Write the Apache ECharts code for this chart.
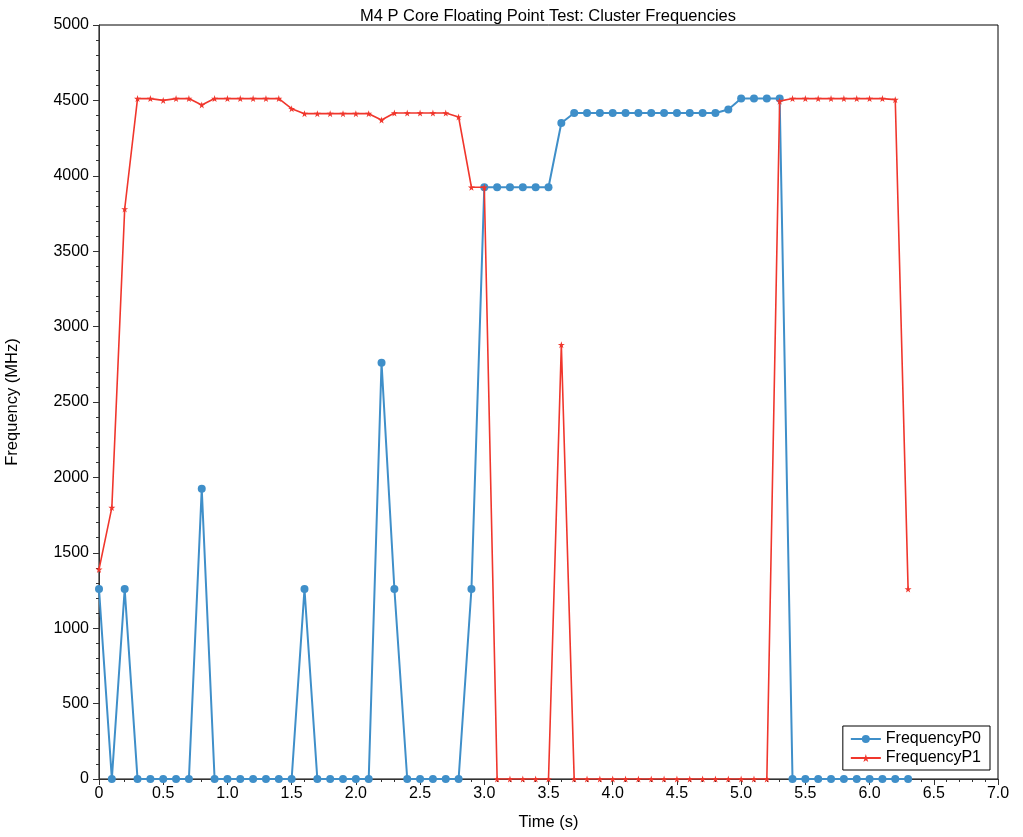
<!DOCTYPE html>
<html>
<head>
<meta charset="utf-8">
<script src="https://cdn.jsdelivr.net/npm/echarts@6/dist/echarts.min.js"></script>
<style>
html, body { margin: 0; padding: 0; background: #fff; }
#main { width: 1023px; height: 837px; }
</style>
</head>
<body>
<div id="main"></div>
<script type="text/javascript">
	// 采样时间 (s)
	var times = [0.0, 0.1, 0.2, 0.3, 0.4, 0.5, 0.6, 0.7, 0.8, 0.9,
		1.0, 1.1, 1.2, 1.3, 1.4, 1.5, 1.6, 1.7, 1.8, 1.9,
		2.0, 2.1, 2.2, 2.3, 2.4, 2.5, 2.6, 2.7, 2.8, 2.9,
		3.0, 3.1, 3.2, 3.3, 3.4, 3.5, 3.6, 3.7, 3.8, 3.9,
		4.0, 4.1, 4.2, 4.3, 4.4, 4.5, 4.6, 4.7, 4.8, 4.9,
		5.0, 5.1, 5.2, 5.3, 5.4, 5.5, 5.6, 5.7, 5.8, 5.9,
		6.0, 6.1, 6.2, 6.3];

	// FrequencyP0 (MHz)
	var freqP0 = [1260, 0, 1260, 0, 0, 0, 0, 0, 1925, 0,
		0, 0, 0, 0, 0, 0, 1260, 0, 0, 0,
		0, 0, 2760, 1260, 0, 0, 0, 0, 0, 1260,
		3924, 3924, 3924, 3924, 3924, 3924, 4350, 4416, 4416, 4416,
		4416, 4416, 4416, 4416, 4416, 4416, 4416, 4416, 4416, 4440,
		4512, 4512, 4512, 4512, 0, 0, 0, 0, 0, 0,
		0, 0, 0, 0];

	// FrequencyP1 (MHz)
	var freqP1 = [1390, 1800, 3780, 4512, 4512, 4500, 4512, 4512, 4470, 4512,
		4512, 4512, 4512, 4512, 4512, 4445, 4412, 4412, 4412, 4412,
		4412, 4412, 4370, 4416, 4416, 4416, 4416, 4416, 4390, 3924,
		3924, 0, 0, 0, 0, 0, 2880, 0, 0, 0,
		0, 0, 0, 0, 0, 0, 0, 0, 0, 0,
		0, 0, 0, 4495, 4512, 4512, 4512, 4512, 4512, 4512,
		4512, 4512, 4505, 1260];

	function pairs(xs, ys) {
		var arr = [];
		for (var i = 0; i < xs.length; i++) {
			arr.push([xs[i], ys[i]]);
		}
		return arr;
	}

	var starPath = 'path://M50,0 L61,35 L98,35 L68,57 L79,91 L50,70 L21,91 L32,57 L2,35 L39,35 Z';
	var fontName = 'Liberation Sans';

	var myChart = echarts.init(document.getElementById('main'));
	var option = {
		animation : false,
		textStyle : {
			fontFamily : fontName
		},
		title : {
			text : 'M4 P Core Floating Point Test: Cluster Frequencies',
			left : 543,
			textAlign : 'center',
			top : 3,
			textStyle : {
				fontFamily : fontName,
				fontSize : 16.5,
				fontWeight : 'normal',
				color : '#000'
			}
		},
		legend : {
			orient : 'vertical',
			right : 33,
			bottom : 67,
			backgroundColor : '#fff',
			borderColor : '#000',
			borderWidth : 1,
			padding : [ 5, 9, 4, 7 ],
			itemGap : 3,
			itemWidth : 30,
			itemHeight : 10,
			textStyle : {
				fontFamily : fontName,
				fontSize : 16,
				color : '#000'
			},
			data : [ 'FrequencyP0', 'FrequencyP1' ]
		},
		grid : {
			left : 99,
			right : 25,
			top : 25,
			bottom : 58,
			show : true,
			borderColor : '#000',
			borderWidth : 1,
			containLabel : false,
			outerBoundsMode : 'none'
		},
		xAxis : {
			type : 'value',
			min : 0,
			max : 7,
			interval : 0.5,
			name : 'Time (s)',
			nameLocation : 'middle',
			nameGap : 35,
			nameTextStyle : {
				fontFamily : fontName,
				fontSize : 16.5,
				color : '#000'
			},
			axisLine : {
				lineStyle : {
					color : '#333',
					width : 1
				}
			},
			axisTick : {
				show : true,
				length : 6,
				lineStyle : {
					color : '#333'
				}
			},
			minorTick : {
				show : true,
				splitNumber : 5,
				length : 3,
				lineStyle : {
					color : '#333'
				}
			},
			splitLine : {
				show : false
			},
			axisLabel : {
				fontFamily : fontName,
				fontSize : 16,
				color : '#000',
				margin : 7,
				formatter : function(v) {
					return v === 0 ? '0' : v.toFixed(1);
				}
			}
		},
		yAxis : {
			type : 'value',
			min : 0,
			max : 5000,
			interval : 500,
			name : 'Frequency (MHz)',
			nameLocation : 'middle',
			nameGap : 78,
			nameTextStyle : {
				fontFamily : fontName,
				fontSize : 16.5,
				color : '#000'
			},
			axisLine : {
				show : true,
				lineStyle : {
					color : '#333',
					width : 1
				}
			},
			axisTick : {
				show : true,
				length : 6,
				lineStyle : {
					color : '#333'
				}
			},
			minorTick : {
				show : true,
				splitNumber : 5,
				length : 3,
				lineStyle : {
					color : '#333'
				}
			},
			splitLine : {
				show : false
			},
			axisLabel : {
				fontFamily : fontName,
				fontSize : 16,
				color : '#000',
				margin : 10,
				formatter : function(v) {
					return String(v);
				}
			}
		},
		series : [ {
			name : 'FrequencyP0',
			type : 'line',
			data : pairs(times, freqP0),
			symbol : 'circle',
			symbolSize : 8,
			showAllSymbol : true,
			color : '#3f8fc9',
			lineStyle : {
				width : 2,
				color : '#3f8fc9'
			},
			itemStyle : {
				color : '#3f8fc9'
			},
			z : 2
		}, {
			name : 'FrequencyP1',
			type : 'line',
			data : pairs(times, freqP1),
			symbol : starPath,
			symbolSize : 7,
			showAllSymbol : true,
			color : '#f0362c',
			lineStyle : {
				width : 1.6,
				color : '#f0362c'
			},
			itemStyle : {
				color : '#f0362c'
			},
			z : 3
		} ]
	};
	myChart.setOption(option);
</script>
</body>
</html>
